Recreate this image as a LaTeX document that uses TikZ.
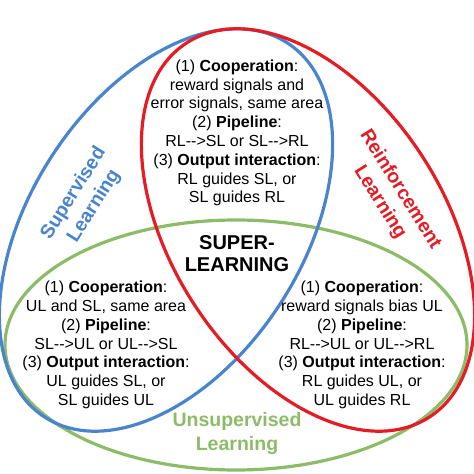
\documentclass[tikz,border=0pt]{standalone}
\usepackage{fontspec}
\setmainfont{Liberation Sans}
\definecolor{vblue}{RGB}{74,132,204}
\definecolor{vred}{RGB}{228,28,36}
\definecolor{vgreen}{RGB}{140,188,104}
\begin{document}
\begin{tikzpicture}[x=1pt,y=1pt,
  ring/.style={line width=3.2pt},
  body/.style={align=center,font=\fontsize{16}{18.8}\selectfont,inner sep=0pt},
  setlabel/.style={align=center,font=\bfseries\fontsize{19.5}{24}\selectfont,inner sep=0pt},
  core/.style={align=center,font=\bfseries\fontsize{20}{22}\selectfont,inner sep=0pt}]
\useasboundingbox (0,0) rectangle (474,474);
% sets
\draw[ring,vgreen] (236,129) ellipse [x radius=231, y radius=125];
\draw[ring,vblue] (166,244) ellipse [x radius=223, y radius=136, rotate=57];
\draw[ring,vred] (308,244) ellipse [x radius=223, y radius=136, rotate=-57];
% set labels
\node[setlabel,text=vblue,rotate=58] (sl) at (84,274) {Supervised\\Learning};
\node[setlabel,text=vred,rotate=-58] (rl) at (390,278) {Reinforcement\\Learning};
\node[setlabel,text=vgreen] (ul) at (237,40) {Unsupervised\\Learning};
% intersections
\node[body] (top) at (237,341) {(1) \textbf{Cooperation}:\\reward signals and\\error signals, same area\\(2) \textbf{Pipeline}:\\RL-{}->SL or SL-{}->RL\\(3) \textbf{Output interaction}:\\RL guides SL, or\\SL guides RL};
\node[body] (left) at (106,129) {(1) \textbf{Cooperation}:\\UL and SL, same area\\(2) \textbf{Pipeline}:\\SL-{}->UL or UL-{}->SL\\(3) \textbf{Output interaction}:\\UL guides SL, or\\SL guides UL};
\node[body] (right) at (362,129) {(1) \textbf{Cooperation}:\\reward signals bias UL\\(2) \textbf{Pipeline}:\\RL-{}->UL or UL-{}->RL\\(3) \textbf{Output interaction}:\\RL guides UL, or\\UL guides RL};
\node[core] (super) at (237,220) {SUPER-\\LEARNING};
\end{tikzpicture}
\end{document}
